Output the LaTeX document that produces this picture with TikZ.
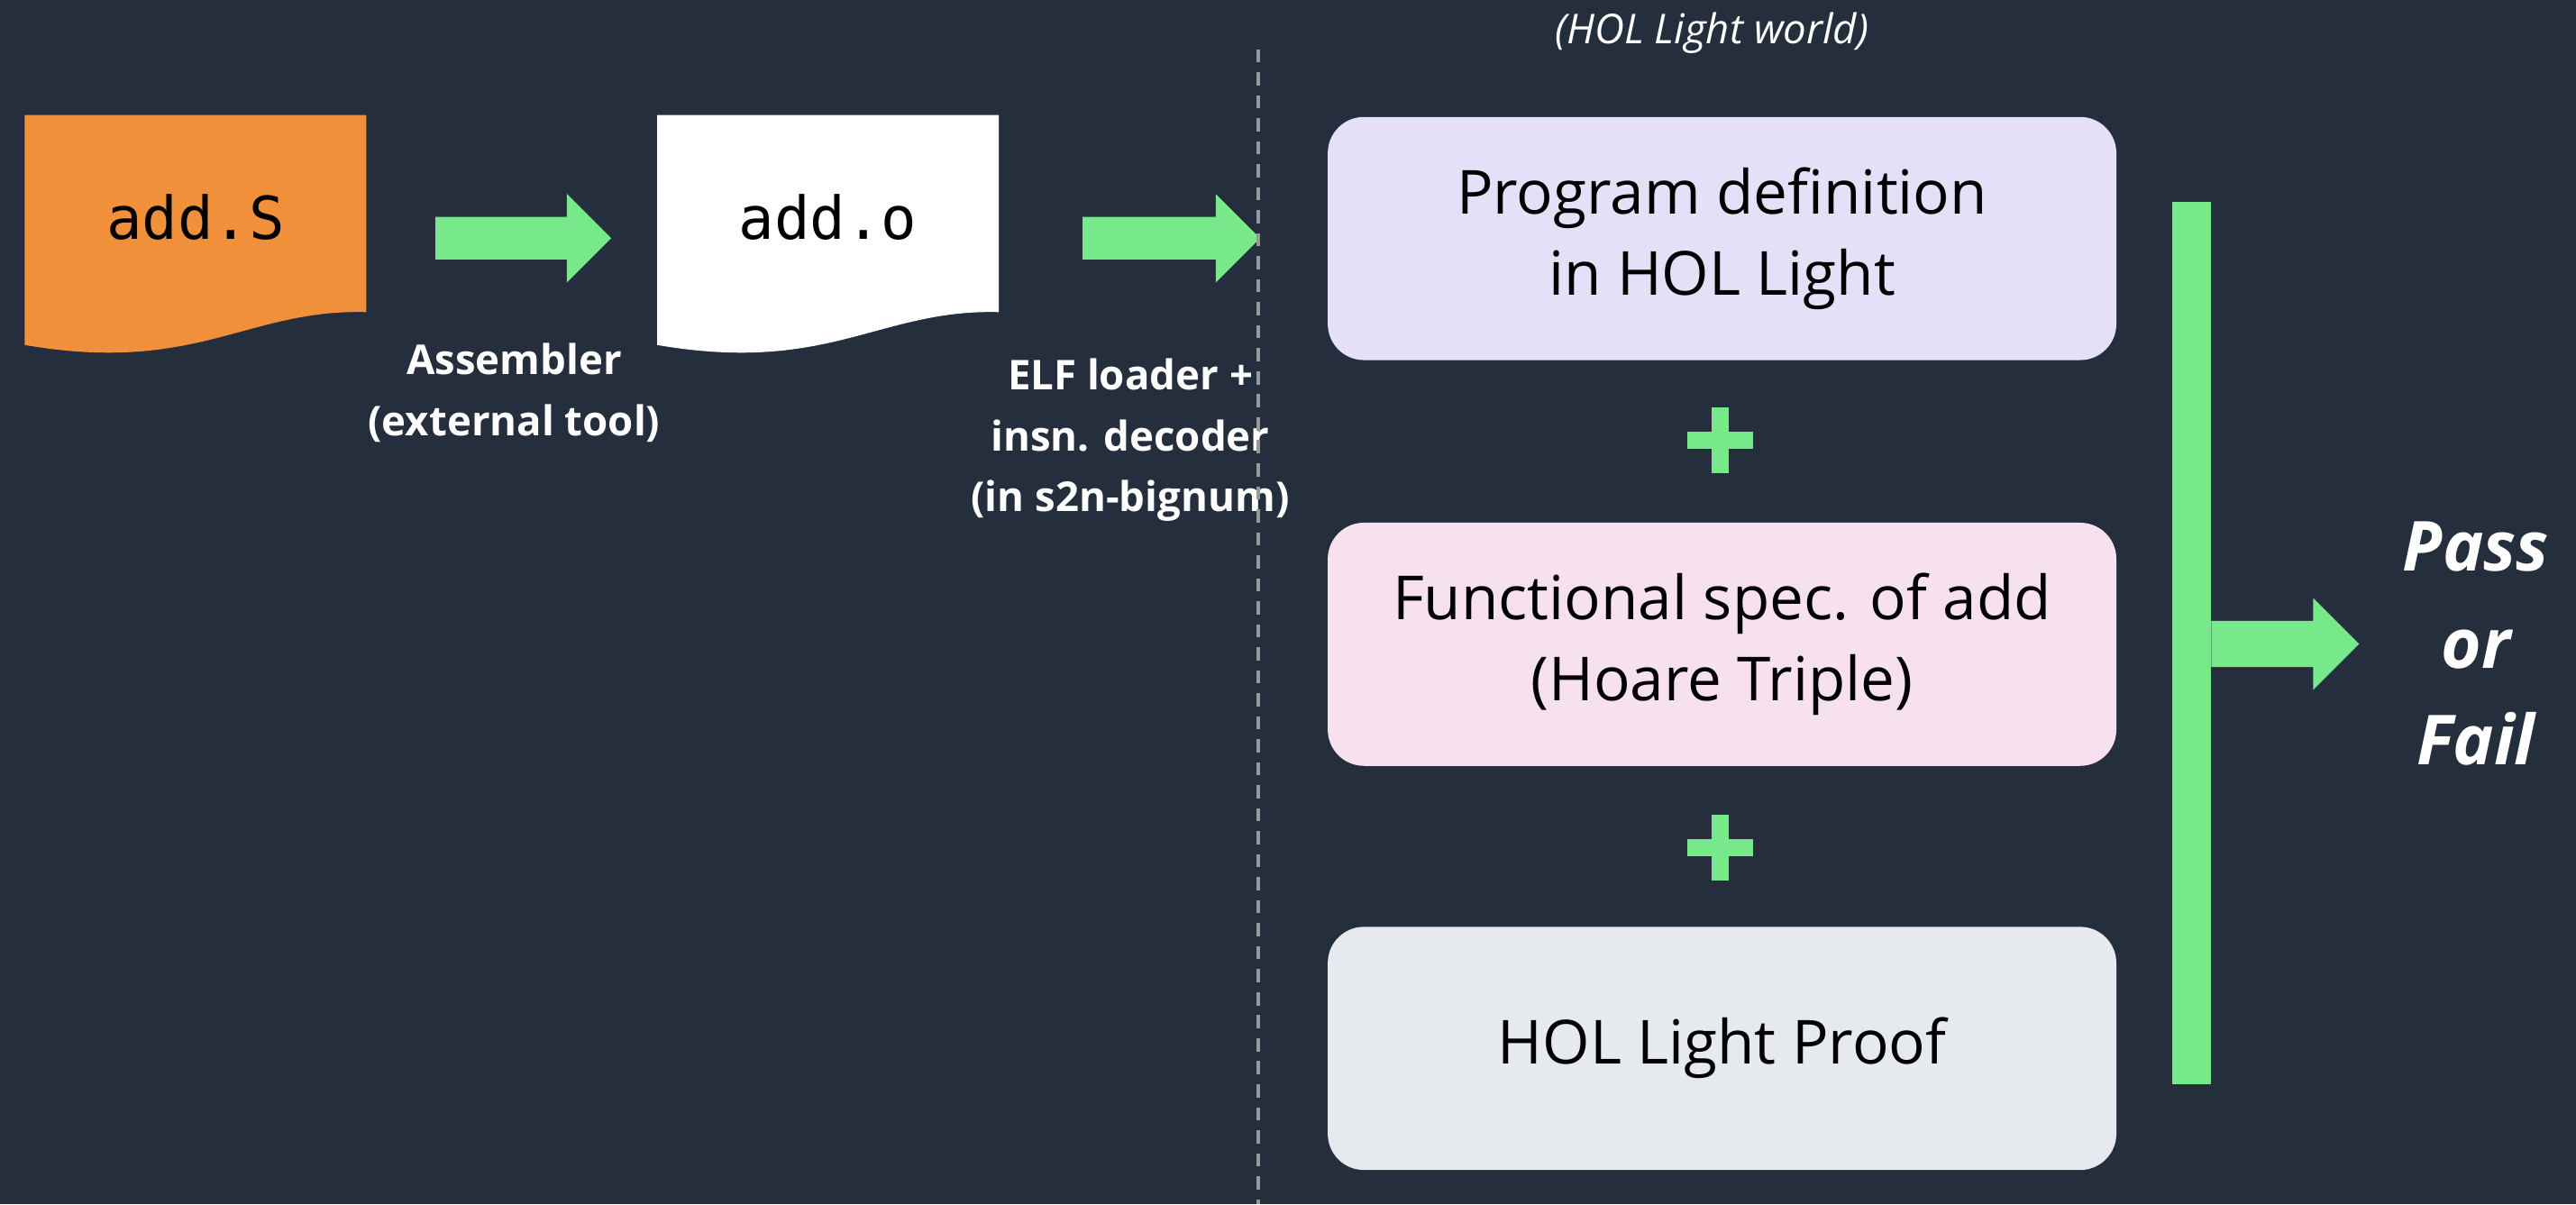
\documentclass[tikz,border=0pt]{standalone}
\usepackage{fontspec}
\setmainfont{Open Sans}
\newfontfamily\monof{DejaVu Sans Mono}
\begin{document}
\begin{tikzpicture}[x=1pt,y=-1pt,
  garrow/.style={fill=arrowgreen,draw=none},
  box/.style={draw=none,rounded corners=22pt,minimum width=480pt,minimum height=148pt,anchor=north west,font=\fontsize{37}{49}\selectfont,align=center,text=black},
  lbl/.style={text=white,font=\bfseries\fontsize{25}{37}\selectfont,align=center},
  plus/.style={fill=arrowgreen,draw=none}]
\definecolor{bg}{HTML}{252E3D}
\definecolor{arrowgreen}{HTML}{77E98A}
\definecolor{orng}{HTML}{F0903A}
\definecolor{b1}{HTML}{E5DFF8}
\definecolor{b2}{HTML}{F8E1EE}
\definecolor{b3}{HTML}{E6E9EE}
\fill[bg] (0,0) rectangle (1568,733);
\useasboundingbox (0,0) rectangle (1568,733);
% documents
\fill[orng] (15,70) -- (223,70) -- (223,190) .. controls (150,188) and (120,228) .. (15,210) -- cycle;
\node[font=\monof\fontsize{36}{40}\selectfont,text=black] (adds) at (119,132) {add.S};
\fill[white] (400,70) -- (608,70) -- (608,190) .. controls (535,188) and (505,228) .. (400,210) -- cycle;
\node[font=\monof\fontsize{36}{40}\selectfont,text=black] (addo) at (504,132) {add.o};
% arrows
\fill[garrow] (265,132) -- (345,132) -- (345,118) -- (372,145) -- (345,172) -- (345,158) -- (265,158) -- cycle;
\fill[garrow] (659,132) -- (740,132) -- (740,118) -- (767,145) -- (740,172) -- (740,158) -- (659,158) -- cycle;
\node[lbl] (asm) at (313,239) {Assembler\\(external tool)};
\node[lbl] (elf) at (688,268) {ELF loader +\\insn. decoder\\(in s2n-bignum)};
% dashed
\coordinate (dt) at (766,30); \coordinate (db) at (766,733);
\draw[gray!80,line width=2pt,dash pattern=on 8pt off 6pt] (dt) -- (db);
\node[text=white,font=\itshape\fontsize{25}{30}\selectfont] (world) at (1042,20) {(HOL Light world)};
% boxes
\node[box,fill=b1] (p1) at (808,71) {Program definition\\in HOL Light};
\node[box,fill=b2] (p2) at (808,318) {Functional spec. of add\\(Hoare Triple)};
\node[box,fill=b3] (p3) at (808,564) {HOL Light Proof};
% plus signs
\fill[plus] (1042,248) rectangle (1052,288); \fill[plus] (1027,263) rectangle (1067,273);
\fill[plus] (1042,496) rectangle (1052,536); \fill[plus] (1027,511) rectangle (1067,521);
% bar and arrow
\fill[arrowgreen] (1322,123) rectangle (1346,660);
\fill[garrow] (1346,378) -- (1408,378) -- (1408,364) -- (1436,392) -- (1408,420) -- (1408,406) -- (1346,406) -- cycle;
\node[text=white,font=\bfseries\itshape\fontsize{42}{59}\selectfont,align=center] (pf) at (1507,392) {Pass\\or\\Fail};
\end{tikzpicture}
\end{document}
